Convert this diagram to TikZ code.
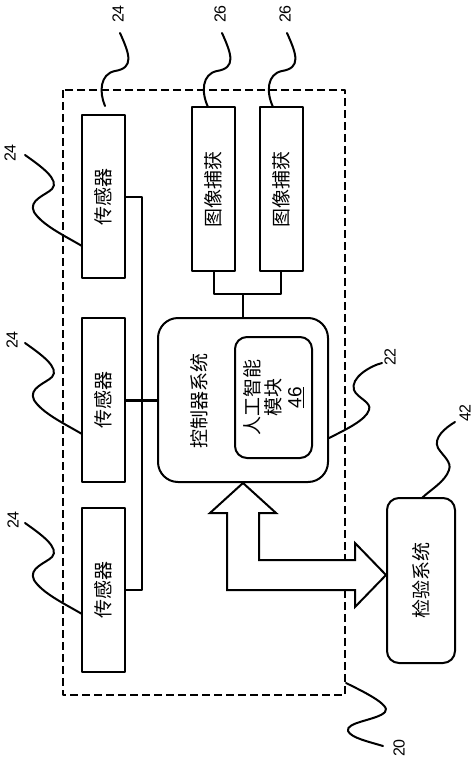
\documentclass[tikz,border=0pt]{standalone}
\usepackage{fontspec}
\setmainfont{Liberation Sans}
\newfontfamily\cjk{Noto Sans CJK SC}
\usetikzlibrary{calc}
\begin{document}
\begin{tikzpicture}[x=1pt,y=-1pt,line join=round,
  box/.style={draw,line width=2pt,inner sep=0pt,rotate=90,font=\cjk\fontsize{19}{21}\selectfont},
  lbl/.style={rotate=90,inner sep=0pt,font=\cjk\fontsize{19}{21}\selectfont},
  lead/.style={line width=2pt,line cap=round},
  num/.style={rotate=90,inner sep=0pt,font=\fontsize{16}{16}\selectfont},
  wire/.style={line width=2pt}]
\useasboundingbox (0,0) rectangle (474,760);
% system boundary
\draw[line width=2pt,dash pattern=on 8pt off 4pt] (63,90) rectangle (345,695);
% sensors
\node[box,minimum width=163pt,minimum height=43pt] (s1) at (103.5,196.5) {传感器};
\node[box,minimum width=164pt,minimum height=43pt] (s2) at (103.5,400) {传感器};
\node[box,minimum width=164pt,minimum height=43pt] (s3) at (103.5,590) {传感器};
% image capture
\node[box,minimum width=164pt,minimum height=43pt] (c1) at (213.5,189) {图像捕获};
\node[box,minimum width=164pt,minimum height=43pt] (c2) at (281,189) {图像捕获};
% control system
\node[draw,line width=2pt,rounded corners=20pt,minimum width=170pt,minimum height=164pt,inner sep=0pt] (ctrl) at (243,400) {};
\node[lbl] (ctrllbl) at (199,401) {控制器系统};
\node[box,rounded corners=12pt,minimum width=121pt,minimum height=77pt,align=center] (ai) at (273.5,397.5) {人工智能\\模块\\{\normalfont\underline{46}}};
% inspection system
\node[box,rounded corners=12pt,minimum width=165pt,minimum height=68pt] (insp) at (421,580.5) {检验系统};
% wiring
\coordinate (bus) at (142,0);
\draw[wire] (s1.south) -- (s1.south -| bus) -- (s3.south -| bus) -- (s3.south);
\draw[line width=3pt] (s2.south) -- (ctrl.west);
\coordinate (j) at (243,294);
\draw[wire] (c1.west) -- (c1.west |- j) -- (c2.west |- j) -- (c2.west);
\draw[wire] (j) -- (ctrl.north);
% double arrow
\coordinate (t1) at (ctrl.south);
\coordinate (t2) at ($(insp.north)+(0,-5.5)$);
\draw[line width=2pt,fill=white,line join=miter] (t1) -- (276,513) -- (259,513) -- (259,560) -- (355,560) -- (355,543) -- (t2) -- (355,607) -- (355,590) -- (227,590) -- (227,513) -- (210,513) -- cycle;
% reference numerals
\node[num] (n24a) at (118,14) {24};
\node[num] (n26a) at (220,14) {26};
\node[num] (n26b) at (285,14) {26};
\node[num] (n24b) at (10,153) {24};
\node[num] (n24c) at (12,340) {24};
\node[num] (n24d) at (13,520) {24};
\node[num] (n22) at (390,357) {22};
\node[num] (n42) at (465,413) {42};
\node[num] (n20) at (399,748) {20};
% leaders
\draw[lead] (120,33) .. controls (130,55) and (134,68) .. (115,71) .. controls (100,74) and (99,92) .. (105,106);
\draw[lead] (222,33) .. controls (232,55) and (236,68) .. (217,71) .. controls (202,74) and (201,92) .. (208,107);
\draw[lead] (287,33) .. controls (297,55) and (301,68) .. (282,71) .. controls (267,74) and (266,92) .. (273,107);
\draw[lead] (25,155) .. controls (42,167) and (60,180) .. (52,189) .. controls (46,195) and (28,200) .. (34,212) .. controls (42,225) and (65,236) .. (82,246);
\draw[lead] (25,343) .. controls (42,355) and (60,368) .. (52,377) .. controls (46,383) and (28,388) .. (34,400) .. controls (42,413) and (65,424) .. (82,434);
\draw[lead] (25,523) .. controls (42,535) and (60,548) .. (52,557) .. controls (46,563) and (28,568) .. (34,580) .. controls (42,593) and (65,604) .. (82,614);
\draw[lead] (382,363) .. controls (370,366) and (350,378) .. (354,390) .. controls (357,398) and (372,402) .. (369,410) .. controls (366,420) and (345,430) .. (329,438);
\draw[lead] (455,422) .. controls (445,428) and (433,438) .. (438,448) .. controls (443,456) and (452,462) .. (449,470) .. controls (445,482) and (430,490) .. (422,498);
\draw[lead] (346,683) .. controls (360,690) and (392,705) .. (385,712) .. controls (378,720) and (345,722) .. (348,731) .. controls (351,738) and (370,742) .. (383,746);
\end{tikzpicture}
\end{document}
